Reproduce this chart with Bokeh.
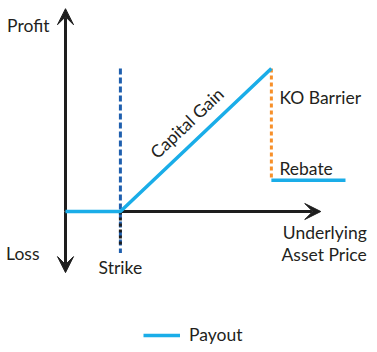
import math
from bokeh.plotting import figure
from bokeh.models import Range1d, Arrow, VeeHead, Legend, LegendItem
from bokeh.core.properties import value
from bokeh.embed import file_html
from bokeh.resources import INLINE

# --- data (schematic units) ---
payout_x = [0, 20, 75]          # flat until strike, then capital gain up to barrier
payout_y = [0, 0, 55]
barrier_x = [75, 75]            # knock-out drop
barrier_y = [55, 12]
rebate_x = [75, 102]
rebate_y = [12, 12]
strike = 20
strike_top = 55
strike_bottom = -16
axis_x_end = 93
axis_y_top = 78
axis_y_bottom = -23.5

PAY = "#1aade8"
ORANGE = "#f7902a"
DBLUE = "#1f5fae"
INK = "#1e1e1e"
TXT = "#231f20"
FONT = "Lato"
FS = "17.5px"

sx = 2.745   # px per x unit
sy = 2.6     # px per y unit
ox, oy = 65, 211

p = figure(width=377, height=352, output_backend="svg", toolbar_location=None,
           x_range=Range1d(-ox / sx, (377 - ox) / sx),
           y_range=Range1d((oy - 352) / sy, oy / sy),
           min_border=0)
p.axis.visible = False
p.grid.visible = False
p.outline_line_color = None
p.background_fill_color = "white"

# axes with arrows (drawn beneath the glyphs)
for xs, ys, xe, ye in [(0, 0, 0, axis_y_top), (0, 0, 0, axis_y_bottom), (0, 0, axis_x_end, 0)]:
    p.add_layout(Arrow(end=VeeHead(size=16, fill_color=INK, line_color=INK),
                       x_start=xs, y_start=ys, x_end=xe, y_end=ye,
                       line_color=INK, line_width=3, level="underlay"))

# strike line
p.line([strike, strike], [strike_top, strike_bottom], line_color=DBLUE, line_width=3, line_dash="6 3")
p.line([strike, strike], [0, -13], line_color=INK, line_width=3, line_dash="3 3")

# barrier drop
p.line(barrier_x, barrier_y, line_color=ORANGE, line_width=3, line_dash="4 3")

# payout
r_pay = p.line(payout_x, payout_y, line_color=PAY, line_width=3.5)
p.line(rebate_x, rebate_y, line_color=PAY, line_width=3.5)

# labels
def lab(x, y, t, align="left", baseline="middle", angle=0, xo=0, yo=0):
    p.text(x=[x], y=[y], text=[t], text_font=value(FONT), text_font_size=FS,
           text_color=TXT, text_align=align, text_baseline=baseline, angle=angle,
           x_offset=xo, y_offset=yo)

lab(0, axis_y_top, "Profit", align="right", xo=-16, yo=17)
lab(0, axis_y_bottom, "Loss", align="right", xo=-26, yo=-19)
lab(strike, strike_bottom, "Strike", align="center", yo=14)
lab(axis_x_end, 0, "Underlying", align="right", xo=46, yo=21)
lab(axis_x_end, 0, "Asset Price", align="right", xo=46, yo=43)
lab(barrier_x[0], barrier_y[0], "KO Barrier", xo=8, yo=29)
lab(rebate_x[0], rebate_y[0], "Rebate", xo=8, yo=-12)
mx = (payout_x[1] + payout_x[2]) / 2
my = (payout_y[1] + payout_y[2]) / 2
lab(mx, my, "Capital Gain", align="center", angle=math.atan2(143, 151), xo=-9, yo=-17)

legend = Legend(items=[LegendItem(label="Payout", renderers=[r_pay])],
                location=(143, 7), orientation="horizontal",
                glyph_width=37, glyph_height=20, label_standoff=9,
                padding=0, margin=0, border_line_alpha=0, background_fill_alpha=0,
                label_text_font=FONT, label_text_font_size=FS, label_text_color=TXT)
p.add_layout(legend)

open("out.html", "w").write(file_html(p, INLINE))
